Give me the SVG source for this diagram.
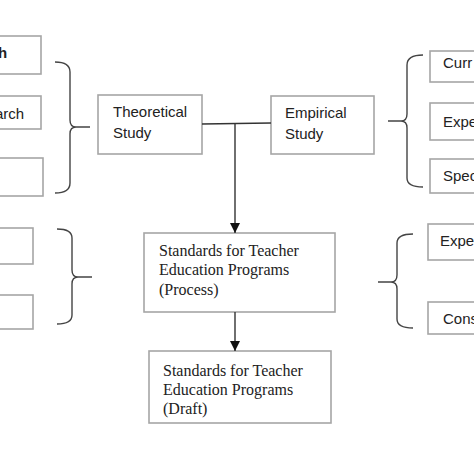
<svg xmlns="http://www.w3.org/2000/svg" width="474" height="474" viewBox="0 0 474 474">
<style>
.box{fill:#fff;stroke:#a6a6a6;stroke-width:1.6}
.sans{font-family:"Liberation Sans",Arial,sans-serif;font-size:15px;fill:#222}
.serif{font-family:"Liberation Serif","Times New Roman",serif;font-size:16px;fill:#222}
.brace{fill:none;stroke:#444;stroke-width:1.4}
.line{fill:none;stroke:#333;stroke-width:1.4}
</style>
<defs>
<marker id="arr" viewBox="0 0 10 10" refX="10" refY="5" markerWidth="10" markerHeight="10" markerUnits="userSpaceOnUse" orient="auto">
<path d="M0,0 L10,5 L0,10 Z" fill="#111"/>
</marker>
</defs>
<rect width="474" height="474" fill="#fff"/>
<g id="left1"><rect class="box" x="-10" y="36" width="51" height="38"/><text class="sans" x="-2" y="58" font-weight="bold">h</text></g>
<g id="left2"><rect class="box" x="-10" y="96" width="51" height="33"/><text class="sans" x="-5" y="119">arch</text></g>
<g id="left3"><rect class="box" x="-10" y="158" width="53" height="38"/></g>
<g id="left4"><rect class="box" x="-10" y="228" width="43" height="36"/></g>
<g id="left5"><rect class="box" x="-10" y="295" width="43" height="34"/></g>
<g id="theoretical"><rect class="box" x="98" y="95" width="104" height="59"/><text class="sans"><tspan x="113" y="117">Theoretical</tspan><tspan x="113" y="138">Study</tspan></text></g>
<g id="empirical"><rect class="box" x="271" y="96" width="103" height="58"/><text class="sans"><tspan x="285" y="118">Empirical</tspan><tspan x="285" y="139">Study</tspan></text></g>
<g id="right1"><rect class="box" x="430" y="51" width="60" height="31"/><text class="sans" x="443" y="68">Curr</text></g>
<g id="right2"><rect class="box" x="430" y="103" width="60" height="37"/><text class="sans" x="443" y="127">Expe</text></g>
<g id="right3"><rect class="box" x="430" y="159" width="60" height="34"/><text class="sans" x="443" y="181">Spec</text></g>
<g id="right4"><rect class="box" x="428" y="224" width="60" height="36"/><text class="sans" x="440" y="246">Expe</text></g>
<g id="right5"><rect class="box" x="428" y="302" width="60" height="32"/><text class="sans" x="443" y="324">Cons</text></g>
<g id="process"><rect class="box" x="144" y="233" width="191" height="79"/><text class="serif"><tspan x="159" y="256">Standards for Teacher</tspan><tspan x="159" y="275">Education Programs</tspan><tspan x="159" y="295">(Process)</tspan></text></g>
<g id="draft"><rect class="box" x="149" y="351" width="182" height="72"/><text class="serif"><tspan x="163" y="376">Standards for Teacher</tspan><tspan x="163" y="395">Education Programs</tspan><tspan x="163" y="414">(Draft)</tspan></text></g>
<g id="connectors">
<path class="line" d="M202,124 L271,123"/>
<path class="line" d="M235,124 L235,233" marker-end="url(#arr)"/>
<path class="line" d="M235,312 L235,351" marker-end="url(#arr)"/>
<path class="brace" d="M55,62 Q70,62 70,72 V120 Q70,127 76,127 H90 M76,127 Q70,127 70,134 V183 Q70,193 55,193"/>
<path class="brace" d="M57,229 Q72,229 72,238 V270 Q72,277 78,277 H92 M78,277 Q72,277 72,284 V315 Q72,324 57,324"/>
<path class="brace" d="M423,55 Q407,55 407,65 V114 Q407,121 401,121 H388 M401,121 Q407,121 407,128 V178 Q407,187 423,187"/>
<path class="brace" d="M413,234 Q397,234 397,243 V275 Q397,282 391,282 H378 M391,282 Q397,282 397,289 V319 Q397,328 413,328"/>
</g>
</svg>
